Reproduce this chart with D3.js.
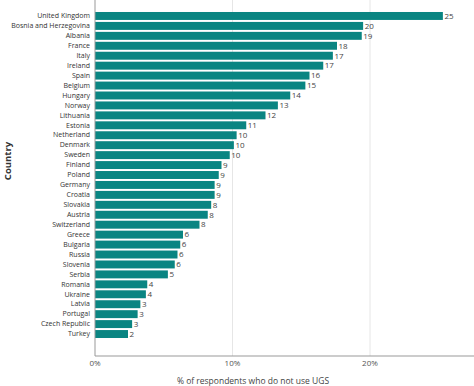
<!DOCTYPE html>
<html>
<head>
<meta charset="utf-8">
<script src="https://cdn.jsdelivr.net/npm/d3@7"></script>
<style>
  body { margin: 0; background: #fff; }
  svg { display: block; font-family: "Open Sans", "Liberation Sans", sans-serif; }
</style>
</head>
<body>
<svg id="chart" width="474" height="386"></svg>
<script>
const countries = ['United Kingdom', 'Bosnia and Herzegovina', 'Albania', 'France', 'Italy', 'Ireland',
  'Spain', 'Belgium', 'Hungary', 'Norway', 'Lithuania', 'Estonia', 'Netherland', 'Denmark', 'Sweden',
  'Finland', 'Poland', 'Germany', 'Croatia', 'Slovakia', 'Austria', 'Switzerland', 'Greece', 'Bulgaria',
  'Russia', 'Slovenia', 'Serbia', 'Romania', 'Ukraine', 'Latvia', 'Portugal', 'Czech Republic', 'Turkey'];
const values = [25.3, 19.5, 19.4, 17.6, 17.3, 16.6, 15.6, 15.3, 14.2, 13.3, 12.4, 11.0, 10.3, 10.1, 9.8,
  9.2, 9.0, 8.7, 8.7, 8.45, 8.2, 7.6, 6.4, 6.2, 6.0, 5.8, 5.3, 3.8, 3.7, 3.3, 3.1, 2.7, 2.4];
const labels = [25, 20, 19, 18, 17, 17, 16, 15, 14, 13, 12, 11, 10, 10, 10,
  9, 9, 9, 9, 8, 8, 8, 6, 6, 6, 6, 5, 4, 4, 3, 3, 3, 2];
const xTicks = [0, 10, 20];

const data = countries.map((c, i) => ({ country: c, value: values[i], label: labels[i] }));

const svg = d3.select('#chart');
const m = { left: 95, right: 474, top: 0, bottom: 356 };

const x = d3.scaleLinear().domain([0, 10]).range([m.left, m.left + 137.5]);
const y = d3.scaleBand()
  .domain(countries)
  .range([11, 339])
  .paddingInner(0.2)
  .paddingOuter(0.1);

// gridlines
svg.append('g')
  .selectAll('line')
  .data(xTicks.slice(1))
  .enter()
  .append('line')
  .attr('x1', d => x(d)).attr('x2', d => x(d))
  .attr('y1', m.top).attr('y2', m.bottom)
  .attr('stroke', '#e6e6e6')
  .attr('stroke-width', 1);

// bars
svg.append('g')
  .selectAll('rect')
  .data(data)
  .enter()
  .append('rect')
  .attr('x', m.left)
  .attr('y', d => y(d.country))
  .attr('width', d => x(d.value) - m.left)
  .attr('height', y.bandwidth())
  .attr('fill', '#0a8582');

// value labels
svg.append('g')
  .selectAll('text')
  .data(data)
  .enter()
  .append('text')
  .attr('x', d => x(d.value) + 1.5)
  .attr('y', d => y(d.country) + y.bandwidth() / 2)
  .attr('dy', '0.35em')
  .attr('font-size', 8)
  .attr('fill', '#444')
  .text(d => d.label);

// y axis (country names)
const yAxis = svg.append('g')
  .attr('transform', 'translate(' + m.left + ',0)')
  .call(d3.axisLeft(y).tickSize(0).tickPadding(5));
yAxis.select('.domain').remove();
yAxis.selectAll('text')
  .attr('font-size', 7)
  .attr('fill', '#333')
  .attr('font-family', '"Open Sans", sans-serif');

// axis lines
svg.append('line')
  .attr('x1', m.left).attr('x2', m.left).attr('y1', m.top).attr('y2', m.bottom)
  .attr('stroke', '#999');
svg.append('line')
  .attr('x1', m.left).attr('x2', m.right).attr('y1', m.bottom).attr('y2', m.bottom)
  .attr('stroke', '#999');

// x tick labels
svg.append('g')
  .selectAll('text')
  .data(xTicks)
  .enter()
  .append('text')
  .attr('x', d => x(d))
  .attr('y', 366)
  .attr('text-anchor', 'middle')
  .attr('font-size', 8)
  .attr('fill', '#555')
  .text(d => d + '%');

// axis titles
svg.append('text')
  .attr('x', 253)
  .attr('y', 384)
  .attr('text-anchor', 'middle')
  .attr('font-size', 8.5)
  .attr('fill', '#444')
  .text('% of respondents who do not use UGS');

svg.append('text')
  .attr('transform', 'translate(11,161) rotate(-90)')
  .attr('text-anchor', 'middle')
  .attr('font-size', 9.5)
  .attr('font-weight', 'bold')
  .attr('fill', '#333')
  .text('Country');
</script>
</body>
</html>
